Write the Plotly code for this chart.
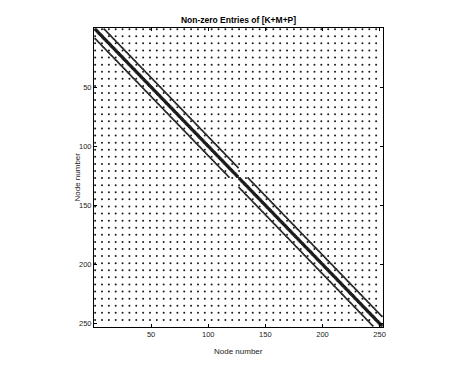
import plotly.graph_objects as go

# ---- data: sparsity structure of [K+M+P] ----
block_sizes = [126, 126]                 # two coupled sub-meshes
band_offsets = [-8, -1, 0, 1, 8]         # nonzero diagonals inside each block (K+M)
coupled_nodes = [1, 7, 13, 19, 25, 31, 37, 43, 49, 55, 61, 67, 73, 79,
                 85, 91, 97, 103, 109, 115, 121, 127, 133, 139, 145, 151,
                 157, 163, 169, 175, 181, 187, 193, 199, 205, 211, 217,
                 223, 229, 235, 241, 247]  # nodes coupled by P (all-to-all)
tick_vals = [50, 100, 150, 200, 250]
tick_text = ["50", "100", "150", "200", "250"]
title_text = "Non-zero Entries of [K+M+P]"
axis_label = "Node number"

n_nodes = sum(block_sizes)

# build nonzero list
entries = set()
start = 0
for bs in block_sizes:
    for i in range(bs):
        for off in band_offsets:
            j = i + off
            if 0 <= j < bs:
                entries.add((start + i + 1, start + j + 1))
    start += bs
for a in coupled_nodes:
    for b in coupled_nodes:
        entries.add((a, b))

rows = [e[0] for e in entries]
cols = [e[1] for e in entries]

fig = go.Figure()
fig.add_trace(go.Scatter(
    x=cols, y=rows, mode="markers",
    marker=dict(color="#1a1a1a", size=2.0, symbol="circle", line=dict(width=0)),
    hoverinfo="skip", showlegend=False,
))

font_family = "Liberation Sans, Arial, Helvetica, sans-serif"
axis_common = dict(
    tickvals=tick_vals, ticktext=tick_text,
    ticks="inside", ticklen=3, tickwidth=1, tickcolor="black",
    showline=True, linecolor="black", linewidth=1, mirror="ticks",
    showgrid=False, zeroline=False, automargin=False,
    tickfont=dict(family=font_family, size=7.5, color="#222"),
)

W, H = 474, 369
L, R, T, B = 94, 91, 28, 42

fig.update_layout(
    width=W, height=H, autosize=False,
    paper_bgcolor="white", plot_bgcolor="white",
    margin=dict(l=L, r=R, t=T, b=B, autoexpand=False),
    title=dict(text="<b>" + title_text + "</b>", x=0.5, xref="paper", xanchor="center",
               y=1 - 20 / H, yanchor="middle", yref="container",
               font=dict(family=font_family, size=8.5, color="black")),
    xaxis=dict(axis_common, range=[0, n_nodes + 1]),
    yaxis=dict(axis_common, range=[n_nodes + 1, 0]),
    annotations=[
        dict(text=axis_label, xref="paper", yref="paper", x=0.5,
             y=-(351 - (H - B)) / (H - T - B), xanchor="center", yanchor="middle",
             showarrow=False, font=dict(family=font_family, size=8, color="#222")),
        dict(text=axis_label, xref="paper", yref="paper",
             x=-(L - 77) / (W - L - R), y=0.5, xanchor="center", yanchor="middle",
             textangle=-90, showarrow=False,
             font=dict(family=font_family, size=8, color="#222")),
    ],
)

fig.write_html("out.html", config={"displayModeBar": False},
               post_script="document.body.style.margin='0';document.body.style.overflow='hidden';")
